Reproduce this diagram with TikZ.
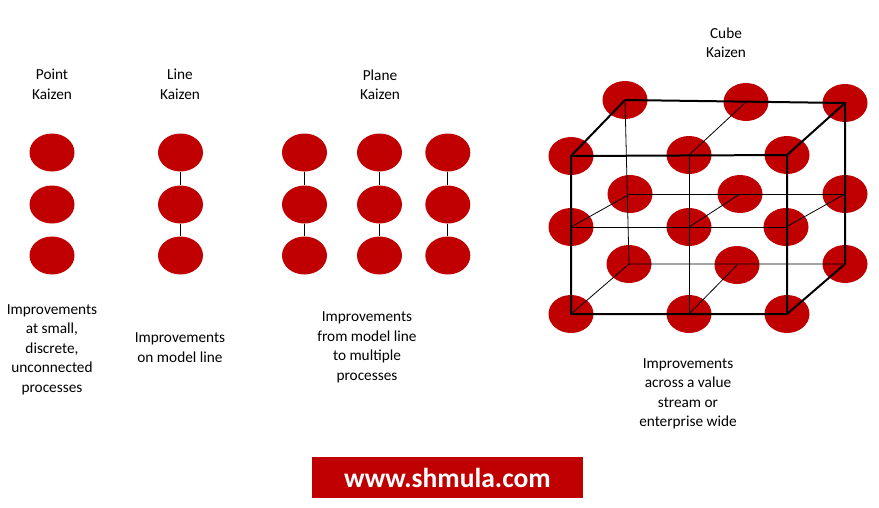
\documentclass[tikz,border=0pt]{standalone}
\usepackage{fontspec}
\setmainfont{Carlito}
\usetikzlibrary{shapes.geometric}
\definecolor{kred}{RGB}{192,0,0}
\tikzset{
    dot/.style={ellipse, fill=kred, minimum width=45pt, minimum height=38pt, inner sep=0pt},
    lbl/.style={align=center, font=\fontsize{15.3}{19.5}\selectfont},
    thin line/.style={line width=0.8pt},
    thick line/.style={line width=2pt}
}
\begin{document}
\begin{tikzpicture}[x=1pt, y=-1pt]
        \useasboundingbox (0,0) rectangle (879,507);

        % point kaizen
        \node[dot] (p1) at (52,152.5) {};
        \node[dot] (p2) at (52,204.5) {};
        \node[dot] (p3) at (52,255.5) {};

        % line kaizen
        \node[dot] (l1) at (180.5,152.5) {};
        \node[dot] (l2) at (180.5,204.5) {};
        \node[dot] (l3) at (180.5,255.5) {};
        \draw[thin line] (l1) -- (l2) -- (l3);

        % plane kaizen
        \foreach \c/\x in {a/304.5, b/379.5, c/447.8} {
            \node[dot] (\c1) at (\x,152.5) {};
            \node[dot] (\c2) at (\x,204.5) {};
            \node[dot] (\c3) at (\x,255.5) {};
            \draw[thin line] (\c1) -- (\c2) -- (\c3);
        }

        % cube kaizen, back layer
        \node[dot] (b11) at (625,100) {};
        \node[dot] (b12) at (746,102) {};
        \node[dot] (b13) at (845,103) {};
        \node[dot] (b21) at (630,194) {};
        \node[dot] (b22) at (740,194) {};
        \node[dot] (b23) at (845,194) {};
        \node[dot] (b31) at (629,264) {};
        \node[dot] (b32) at (737,265) {};
        \node[dot] (b33) at (845,264) {};
        % cube kaizen, front layer
        \node[dot] (f11) at (571,156) {};
        \node[dot] (f12) at (689,155) {};
        \node[dot] (f13) at (787,155) {};
        \node[dot] (f21) at (571,227) {};
        \node[dot] (f22) at (689,227) {};
        \node[dot] (f23) at (786,227) {};
        \node[dot] (f31) at (571,314) {};
        \node[dot] (f32) at (689,314) {};
        \node[dot] (f33) at (787,314) {};

        \draw[thin line] (b11.center) -- (b31.center) -- (b33.center);
        \draw[thin line] (f31.center) -- (b31.center);
        \draw[thin line] (f21.center) -- (f23.center);
        \draw[thin line] (b21.center) -- (b23.center);
        \draw[thin line] (f21.center) -- (b21.center);
        \draw[thin line] (f22.center) -- (b22.center);
        \draw[thin line] (f23.center) -- (b23.center);
        \draw[thin line] (f12.center) -- (f32.center);
        \draw[thin line] (f12.center) -- (b12.center);
        \draw[thin line] (f32.center) -- (b32.center);

        \draw[thick line] (f11.center) -- (f13.center) -- (f33.center) -- (f31.center) -- cycle;
        \draw[thick line] (b11.center) -- (b13.center) -- (b33.center);
        \draw[thick line] (f11.center) -- (b11.center);
        \draw[thick line] (f13.center) -- (b13.center);
        \draw[thick line] (f33.center) -- (b33.center);

        % titles
        \node[lbl] (tpoint) at (52,84.5) {Point\\Kaizen};
        \node[lbl] (tline) at (180,84.5) {Line\\Kaizen};
        \node[lbl] (tplane) at (380,84.5) {Plane\\Kaizen};
        \node[lbl] (tcube) at (726,42.5) {Cube\\Kaizen};

        % descriptions
        \node[lbl] (dpoint) at (52,349.5) {Improvements\\at small,\\discrete,\\unconnected\\processes};
        \node[lbl] (dline) at (180,347.5) {Improvements\\on model line};
        \node[lbl] (dplane) at (367,347.5) {Improvements\\from model line\\to multiple\\processes};
        \node[lbl] (dcube) at (688,394) {Improvements\\across a value\\stream or\\enterprise wide};

        % banner
        \node[fill=kred, text=white, font=\fontsize{27.5}{32}\bfseries\selectfont,
              minimum width=271pt, minimum height=41pt, inner sep=0pt] (web) at (447.5,477.5) {www.shmula.com};
    \end{tikzpicture}
\end{document}
